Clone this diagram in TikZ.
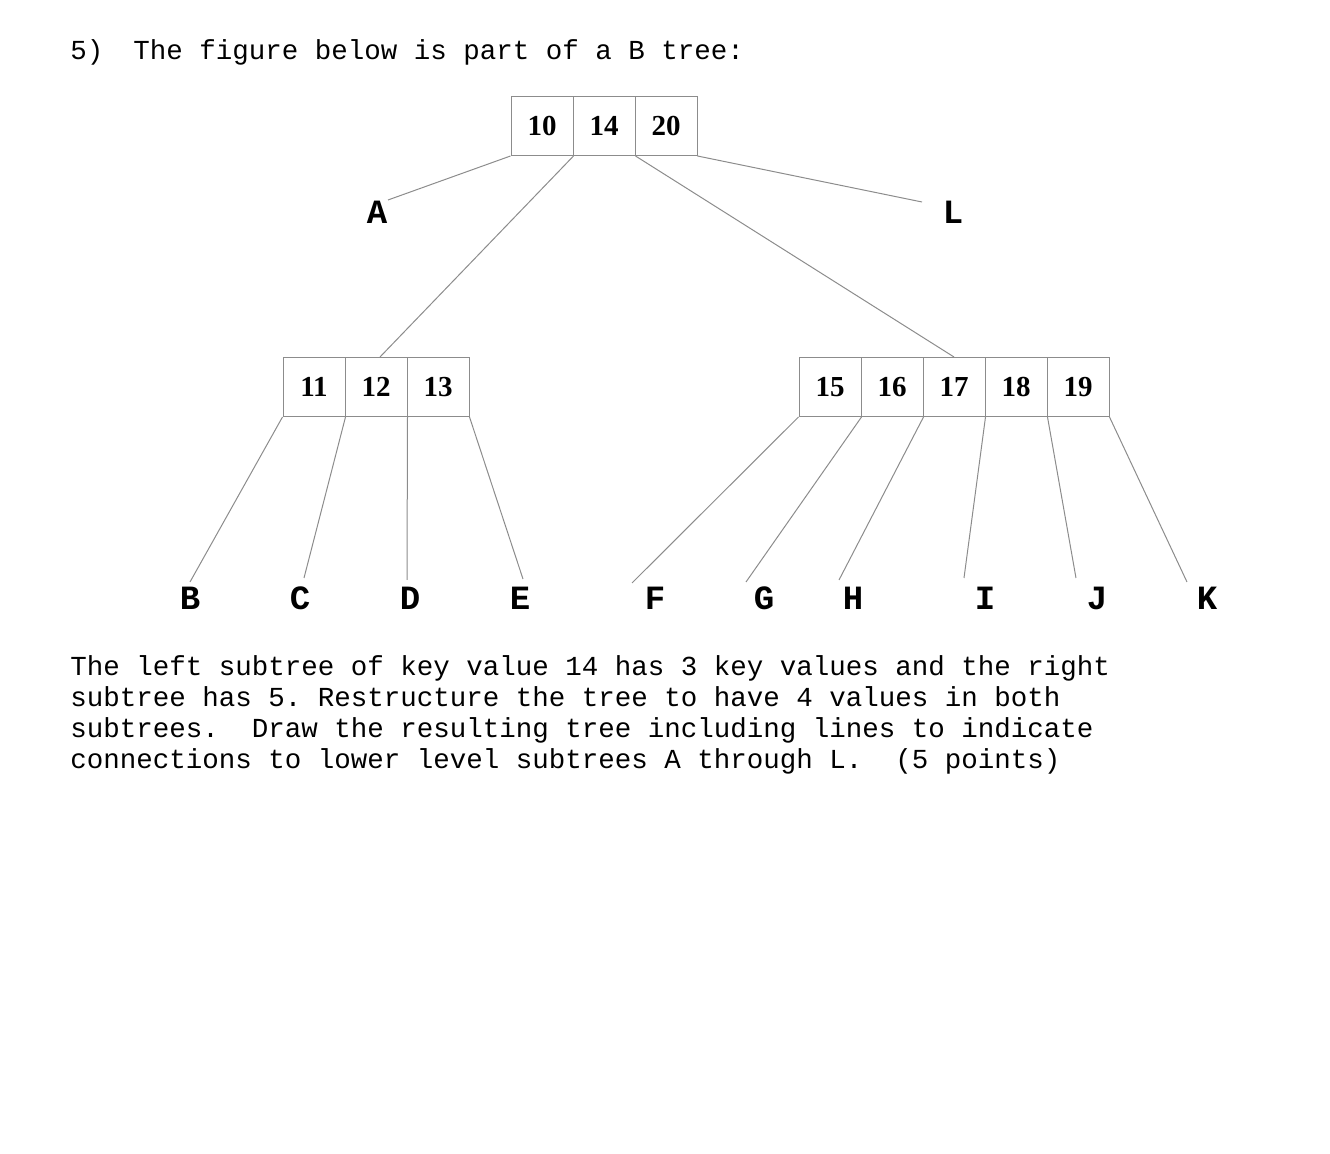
\documentclass[tikz,border=0pt]{standalone}
\usepackage{fontspec}
\setmainfont{Liberation Serif}
\setmonofont{Liberation Mono}
\frenchspacing
\tikzset{
  key/.style={draw=black!45, line width=0.5pt, minimum width=31pt, minimum height=29.5pt,
    inner sep=0pt, font=\fontsize{14.5}{16}\selectfont\bfseries},
  sub/.style={font=\ttfamily\bfseries\fontsize{17}{18}\selectfont},
  txt/.style={anchor=base west, inner sep=0pt, font=\ttfamily\fontsize{13.75}{16}\selectfont},
  link/.style={draw=black!45, line width=0.5pt}
}
\begin{document}
\begin{tikzpicture}[x=0.5pt,y=-0.5pt]
  \useasboundingbox (0,0) rectangle (1330,1154);
  \node[txt] (num) at (70,60) {5)};
  \node[txt] (title) at (133,60) {The figure below is part of a B tree:};
  \foreach \k [count=\i] in {10,14,20}
    \node[key] (r\i) at (480+62*\i,126) {\k};
  \foreach \k [count=\i] in {11,12,13}
    \node[key] (a\i) at (252+62*\i,387) {\k};
  \foreach \k [count=\i] in {15,16,17,18,19}
    \node[key] (c\i) at (768+62*\i,387) {\k};
  \node[sub] (A) at (377,212) {A};
  \node[sub] (L) at (953,212) {L};
  \foreach \s/\x in {B/190,C/300,D/410,E/520,F/655,G/764,H/853,I/985,J/1097,K/1207}
    \node[sub] (\s) at (\x,598) {\s};
  \coordinate (endA) at (388,200);
  \coordinate (endL) at (922,202);
  \coordinate (endB) at (190,582);
  \coordinate (endC) at (304,578);
  \coordinate (endD) at (407,580);
  \coordinate (endE) at (523,579);
  \coordinate (endF) at (632,583);
  \coordinate (endG) at (746,582);
  \coordinate (endH) at (839,580);
  \coordinate (endI) at (964,578);
  \coordinate (endJ) at (1076,578);
  \coordinate (endK) at (1187,582);
  \draw[link] (r1.south west) -- (endA);
  \draw[link] (r1.south east) -- ([xshift=2pt]a2.north);
  \draw[link] (r2.south east) -- (c3.north);
  \draw[link] (r3.south east) -- (endL);
  \draw[link] (a1.south west) -- (endB);
  \draw[link] (a1.south east) -- (endC);
  \draw[link] (a2.south east) -- (endD);
  \draw[link] (a3.south east) -- (endE);
  \draw[link] (c1.south west) -- (endF);
  \draw[link] (c1.south east) -- (endG);
  \draw[link] (c2.south east) -- (endH);
  \draw[link] (c3.south east) -- (endI);
  \draw[link] (c4.south east) -- (endJ);
  \draw[link] (c5.south east) -- (endK);
  \node[txt] (p1) at (70,676) {The left subtree of key value 14 has 3 key values and the right};
  \node[txt] (p2) at (70,707) {subtree has 5. Restructure the tree to have 4 values in both};
  \node[txt] (p3) at (70,738) {subtrees.\ \ Draw the resulting tree including lines to indicate};
  \node[txt] (p4) at (70,769) {connections to lower level subtrees A through L.\ \ (5 points)};
\end{tikzpicture}
\end{document}
